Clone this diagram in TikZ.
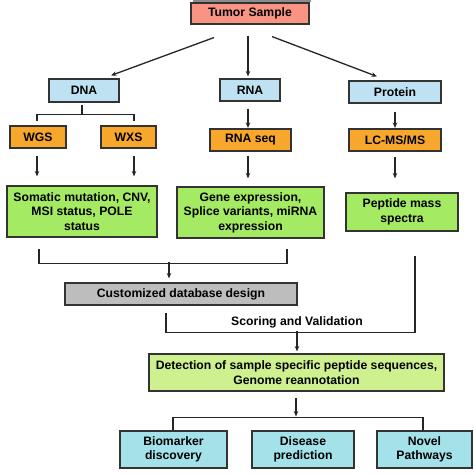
\documentclass[tikz,border=0pt]{standalone}
\usepackage{fontspec}
\setmainfont{Liberation Sans}
\usetikzlibrary{arrows.meta,calc,shadows}
\definecolor{salmonc}{HTML}{F99483}
\definecolor{lblue}{HTML}{BEE2F1}
\definecolor{orangec}{HTML}{F7A82C}
\definecolor{greenc}{HTML}{A4EA62}
\definecolor{lgreen}{HTML}{CFF08E}
\definecolor{cyanc}{HTML}{A3E2E8}
\definecolor{grayc}{HTML}{BDBDBD}
\begin{document}
\begin{tikzpicture}[x=1pt,y=-1pt,
  box/.style={draw=black!80, line width=1.1pt, align=center, inner sep=0pt,
    font=\fontsize{12.2}{14.6}\selectfont\bfseries,
    drop shadow={shadow xshift=1pt, shadow yshift=-1pt, opacity=0.45}},
  arr/.style={-{Stealth[length=5.5pt,width=4.5pt]}, line width=1.3pt, draw=black!85},
  ln/.style={line width=1.3pt, draw=black!85},
  lab/.style={font=\fontsize{12.2}{14.6}\selectfont\bfseries, inner sep=0pt}]
\fill[white] (0,0) rectangle (474,474);
\useasboundingbox (0,0) rectangle (474,474);
\fill[black!45] (193,0) rectangle (311,2);
% nodes
\node[box, fill=salmonc, minimum width=118, minimum height=21] (tumor) at (250,13.5) {Tumor Sample};
\node[box, fill=lblue, minimum width=70, minimum height=23] (dna) at (84,90.5) {DNA};
\node[box, fill=lblue, minimum width=60, minimum height=22] (rna) at (250,90) {RNA};
\node[box, fill=lblue, minimum width=92, minimum height=22] (protein) at (395,92) {Protein};
\node[box, fill=orangec, minimum width=56, minimum height=22] (wgs) at (38,137) {WGS};
\node[box, fill=orangec, minimum width=55, minimum height=22] (wxs) at (128.5,137) {WXS};
\node[box, fill=orangec, minimum width=81, minimum height=22] (rnaseq) at (250.5,140) {RNA seq};
\node[box, fill=orangec, minimum width=92, minimum height=22] (lcms) at (395,140) {LC-MS/MS};
\node[box, fill=greenc, minimum width=150, minimum height=51] (g1) at (82,211.5) {Somatic mutation, CNV,\\MSI status, POLE\\status};
\node[box, fill=greenc, minimum width=147, minimum height=51] (g2) at (250.5,212.5) {Gene expression,\\Splice variants, miRNA\\expression};
\node[box, fill=greenc, minimum width=112, minimum height=38] (g3) at (402,212) {Peptide mass\\spectra};
\node[box, fill=grayc, minimum width=232, minimum height=22] (db) at (181,294) {Customized database design};
\node[box, fill=lgreen, minimum width=295, minimum height=37] (det) at (296.5,372.5) {Detection of sample specific peptide sequences,\\Genome reannotation};
\node[box, fill=cyanc, minimum width=107, minimum height=37] (bio) at (173.5,449.5) {Biomarker\\discovery};
\node[box, fill=cyanc, minimum width=102, minimum height=37] (dis) at (303,449.5) {Disease\\prediction};
\node[box, fill=cyanc, minimum width=95, minimum height=37] (nov) at (424.5,449.5) {Novel\\Pathways};
\node[lab] (score) at ($(det.north)+(0.5,-31)$) {Scoring and Validation};
% connectors
\draw[arr] ($(tumor.south)+(-36,13)$) -- ($(dna.north)+(27,-3)$);
\draw[arr] ($(tumor.south)+(-2,11)$) -- ($(rna.north)+(-2,-2)$);
\draw[arr] ($(tumor.south)+(22,12)$) -- ($(protein.north)+(-18,-4)$);
\coordinate (dfork) at ($(dna.south)+(-2,12)$);
\draw[ln] ($(dna.south)+(-2,2)$) -- (dfork);
\draw[ln] ($(wgs.north)+(-1,-4)$) |- (dfork) -| ($(wxs.north)+(5.5,-4)$);
\draw[arr] ($(rna.south)+(-2,7)$) -- ($(rnaseq.north)+(-2.5,-0.5)$);
\draw[arr] ($(protein.south)+(0,8)$) -- ($(lcms.north)+(0,-0.5)$);
\draw[arr] ($(wgs.south)+(-1,7)$) -- ($(g1.north)+(-45,-9)$);
\draw[arr] ($(wxs.south)+(5.5,7)$) -- ($(g1.north)+(52,-9)$);
\draw[arr] ($(rnaseq.south)+(-2.5,4)$) -- ($(g2.north)+(-2.5,-8)$);
\draw[arr] ($(lcms.south)+(0,5)$) -- ($(g3.north)+(-7,-14)$);
\draw[ln] ($(g1.south)+(-43,11)$) |- ($(g2.south)+(36.5,25)$) -- ($(g2.south)+(36.5,10)$);
\draw[arr] ($(db.north)+(-12,-20)$) -- ($(db.north)+(-12,-4)$);
\draw[ln] ($(db.south)+(-15,7)$) |- ($(g3.south)+(13,101)$) -- ($(g3.south)+(13,24)$);
\draw[arr] ($(det.north)+(0.5,-22)$) -- ($(det.north)+(0.5,-2)$);
\draw[arr] ($(det.south)+(-0.5,6)$) -- ($(det.south)+(-0.5,25)$);
\draw[ln] ($(bio.north)+(-0.5,0)$) |- ($(det.south)+(0,26)$) -| ($(nov.north)+(-1.5,0)$);
\end{tikzpicture}
\end{document}
